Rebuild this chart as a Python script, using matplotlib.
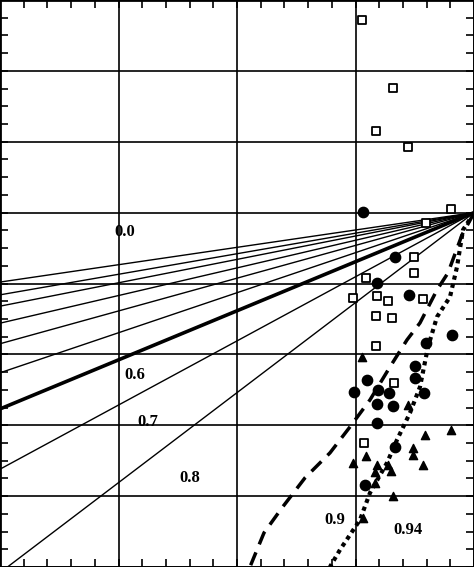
import numpy as np
import matplotlib.pyplot as plt
from matplotlib.ticker import MultipleLocator

# values in pixel units, converted to axis units below
sq_px = [(362, 20), (393, 88), (376, 131), (408, 147), (451, 209), (426, 223), (414, 257),
         (366, 278), (414, 273), (353, 298), (377, 296), (388, 301), (423, 299), (376, 316),
         (392, 318), (376, 346), (394, 383), (364, 443)]
circ_px = [(363, 212), (395, 257), (377, 283), (409, 295), (452, 335), (426, 343), (415, 366),
           (367, 380), (415, 378), (354, 392), (378, 390), (389, 393), (424, 393), (377, 404),
           (393, 406), (377, 423), (395, 447), (365, 485)]
tri_px = [(362, 357), (408, 405), (451, 430), (425, 435), (413, 448), (413, 455), (366, 456),
          (353, 463), (423, 465), (377, 465), (388, 465), (391, 471), (375, 472), (375, 483),
          (393, 496), (363, 518)]
dash_px = [(474, 213), (462, 235), (448, 273), (437, 290), (420, 323), (407, 340), (390, 367),
           (370, 400), (350, 427), (330, 453), (305, 478), (282, 508), (264, 533), (250, 567)]
dot_px = [(474, 213), (463, 230), (457, 267), (450, 297), (437, 317), (428, 347), (420, 387),
          (410, 413), (397, 440), (387, 463), (370, 493), (360, 520), (340, 550), (330, 567)]
fan_labels = ['0.0', '0.1', '0.2', '0.3', '0.4', '0.5', '0.6', '0.7', '0.8']
fan_left_y = [4.02, 3.84, 3.68, 3.44, 3.15, 2.74, 2.23, 1.38, -0.08]
apex = (4.0, 5.0)

def conv(pts):
    a = np.array(pts, float)
    return a[:, 0] / 118.5, 8 - a[:, 1] / 70.9

fig = plt.figure(figsize=(4.74, 5.67), dpi=100)
ax = fig.add_axes([0, 0, 1, 1])
ax.set_xlim(0, 4)
ax.set_ylim(0, 8)

for lab, y0 in zip(fan_labels, fan_left_y):
    ax.plot([0, apex[0]], [y0, apex[1]], color='black', lw=2.6 if lab == '0.6' else 1.0)

x, y = conv(dash_px)
ax.plot(x, y, color='black', lw=2.5, ls=(0, (4, 2.5)))
x, y = conv(dot_px)
ax.plot(x, y, color='black', lw=3, ls=(0, (1, 1)))

x, y = conv(sq_px)
ax.scatter(x, y, marker='s', s=30, facecolor='white', edgecolor='black', lw=1.3, zorder=3)
x, y = conv(circ_px)
ax.scatter(x, y, marker='o', s=55, color='black', zorder=3)
x, y = conv(tri_px)
ax.scatter(x, y, marker='^', s=35, color='black', zorder=3)

font = dict(family='Liberation Serif', weight='bold', fontsize=12)
label_px = [('0.0', 125, 232), ('0.6', 135, 375), ('0.7', 148, 422), ('0.8', 190, 478),
            ('0.9', 335, 520), ('0.94', 408, 530)]
for t, px, py in label_px:
    ax.text(px / 118.5, 8 - py / 70.9, t, ha='center', va='center', **font)

ax.xaxis.set_major_locator(MultipleLocator(1))
ax.yaxis.set_major_locator(MultipleLocator(1))
ax.xaxis.set_minor_locator(MultipleLocator(0.2))
ax.yaxis.set_minor_locator(MultipleLocator(0.25))
ax.grid(True, which='major', color='black', lw=1.2)
ax.tick_params(which='both', direction='in', top=True, right=True, length=6, width=1.2,
               labelbottom=False, labelleft=False)
for s in ax.spines.values():
    s.set_linewidth(2)

fig.savefig('out.png', dpi=100)
